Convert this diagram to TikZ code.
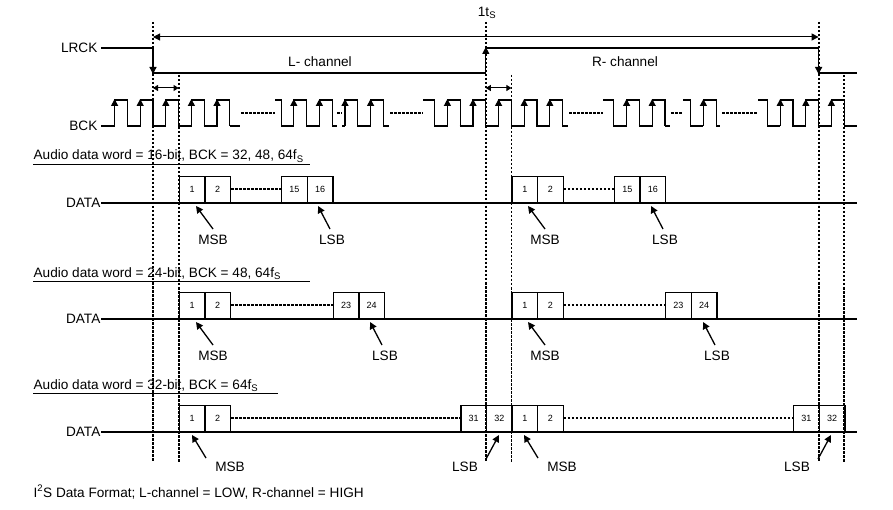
\documentclass[tikz,border=0pt]{standalone}
\usepackage{fontspec}
\setmainfont{Liberation Sans}
\usetikzlibrary{arrows.meta}
\begin{document}
\begin{tikzpicture}[x=1pt,y=-1pt,line width=1.3pt,
  lbl/.style={font=\fontsize{13.6}{15}\selectfont,inner sep=0pt},
  num/.style={font=\fontsize{9}{10}\selectfont},
  vd/.style={line width=1.8pt,dash pattern=on 2.5pt off 1.5pt},
  dots/.style={line width=2pt,dash pattern=on 2.5pt off 1.5pt},
  tip/.style={-{Triangle[length=7pt,width=7pt]}},
  box/.style={draw,line width=1.3pt,minimum width=25.6pt,minimum height=26pt,inner sep=0pt,anchor=south west,num}]
\useasboundingbox (0,0) rectangle (893,510);
% vertical dashed
\foreach \x in {153,485.8,818.6}{\draw[vd] (\x,22) -- (\x,462);}
\foreach \x in {178.6,511.4,844.2}{\draw[vd] (\x,75) -- (\x,462);}
% 1tS
\node[lbl] (ts) at (487,13) {1t\textsubscript{S}};
\coordinate (tA) at (153,37); \coordinate (tB) at (818.6,37);
\draw[line width=1pt,{Triangle[length=7pt,width=7pt]}-{Triangle[length=7pt,width=7pt]}] (tA) -- (tB);
% LRCK
\node[lbl,anchor=east] (lrck) at (98,48) {LRCK};
\draw (101,48) -- (153,48) -- (153,73) -- (485.8,73) -- (485.8,48) -- (818.6,48) -- (818.6,73) -- (857,73);
\draw[tip] (153,60) -- (153,74);
\draw[tip] (485.8,60) -- (485.8,47);
\draw[tip] (818.6,60) -- (818.6,74);
\node[lbl] (lch) at (320,62) {L- channel};
\node[lbl] (rch) at (625,62) {R- channel};
\coordinate (s1) at (153,88); \coordinate (s2) at (178.6,88);
\coordinate (s3) at (485.8,88); \coordinate (s4) at (511.4,88);
\draw[line width=1pt,{Triangle[length=5pt,width=6pt]}-{Triangle[length=5pt,width=6pt]}] (s1) -- (s2);
\draw[line width=1pt,{Triangle[length=5pt,width=6pt]}-{Triangle[length=5pt,width=6pt]}] (s3) -- (s4);
% BCK
\node[lbl,anchor=east] (bck) at (98,126) {BCK};
\def\pul#1{\foreach \k in {#1}{%
  \draw ({140.2+25.6*\k},126) -- ({140.2+25.6*\k},100) -- ({153+25.6*\k},100) -- ({153+25.6*\k},126);
  \draw[tip] ({140.2+25.6*\k},116) -- ({140.2+25.6*\k},99);}}
\def\low#1{\foreach \k in {#1}{\draw ({153+25.6*\k-0.6},126) -- ({165.8+25.6*\k+0.6},126);}}
\pul{-1,0,1,2,3} \draw (101,126) -- (115.2,126); \low{-1,0,1,2} \draw (230,126) -- (240,126);
\draw[dots] (241,113) -- (275,113);
\draw (275,100) -- (281.4,100) -- (281.4,126) -- (294,126); \pul{6,7} \low{6}
\draw (332,126) -- (337,126); \draw[dots] (337,113) -- (342,113); \draw (342,126) -- (345,126);
\pul{8,9} \low{8} \draw (383,126) -- (389,126);
\draw[dots] (390,113) -- (423,113);
\draw (423,100) -- (434.6,100) -- (434.6,126) -- (447.6,126); \pul{12,13,14,15,16} \low{12,13,14,15}
\draw (562,126) -- (568,126); \draw[dots] (569,113) -- (603,113);
\draw (603,100) -- (613.8,100) -- (613.8,126) -- (626.6,126); \pul{19,20} \low{19}
\draw (665,126) -- (670,126); \draw[dots] (671,113) -- (683,113);
\draw (683,100) -- (690.6,100) -- (690.6,126) -- (703.4,126); \pul{22} \draw (716,126) -- (720,126);
\draw[dots] (722,113) -- (758,113);
\draw (758,100) -- (767.4,100) -- (767.4,126) -- (780.2,126); \pul{25,26,27} \low{25,26} \draw (844,126) -- (857,126);
% ---- row 1
\node[lbl,anchor=base west] (h1) at (33,160) {Audio data word = 16-bit, BCK = 32, 48, 64f\textsubscript{S}};
\draw[line width=0.8pt] (33,164) -- (310,164);
\node[lbl,anchor=east] (d1) at (101,203) {DATA};
\draw (101,203) -- (857,203);
\node[box] (a1) at (178.6,203) {1}; \node[box] (a2) at (204.2,203) {2};
\node[box] (a15) at (281,203) {15}; \node[box] (a16) at (306.6,203) {16};
\draw[dots] (a2.east) -- (a15.west);
\node[box] (b1) at (511.4,203) {1}; \node[box] (b2) at (537,203) {2};
\node[box] (b15) at (613.8,203) {15}; \node[box] (b16) at (639.4,203) {16};
\draw[dots] (b2.east) -- (b15.west);
\node[lbl] (m1) at (213,240) {MSB}; \node[lbl] (l1) at (332,240) {LSB};
\node[lbl] (m2) at (545,240) {MSB}; \node[lbl] (l2) at (665,240) {LSB};
\draw[tip] (213,229) -- (196,206); \draw[tip] (330,229) -- (318,206);
\draw[tip] (545,229) -- (528,206); \draw[tip] (663,229) -- (651,206);
% ---- row 2
\node[lbl,anchor=base west] (h2) at (33,277) {Audio data word = 24-bit, BCK = 48, 64f\textsubscript{S}};
\draw[line width=0.8pt] (33,281) -- (310,281);
\node[lbl,anchor=east] (d2) at (101,319) {DATA};
\draw (101,319) -- (857,319);
\node[box] (c1) at (178.6,319) {1}; \node[box] (c2) at (204.2,319) {2};
\node[box] (c23) at (332.6,319) {23}; \node[box] (c24) at (358.2,319) {24};
\draw[dots] (c2.east) -- (c23.west);
\node[box] (e1) at (511.4,319) {1}; \node[box] (e2) at (537,319) {2};
\node[box] (e23) at (665,319) {23}; \node[box] (e24) at (690.6,319) {24};
\draw[dots] (e2.east) -- (e23.west);
\node[lbl] (m3) at (213,356) {MSB}; \node[lbl] (l3) at (385,356) {LSB};
\node[lbl] (m4) at (545,356) {MSB}; \node[lbl] (l4) at (717,356) {LSB};
\draw[tip] (213,345) -- (196,322); \draw[tip] (382,345) -- (370,322);
\draw[tip] (545,345) -- (528,322); \draw[tip] (715,345) -- (703,322);
% ---- row 3
\node[lbl,anchor=base west] (h3) at (33,389) {Audio data word = 32-bit, BCK = 64f\textsubscript{S}};
\draw[line width=0.8pt] (33,393) -- (278,393);
\node[lbl,anchor=east] (d3) at (101,432) {DATA};
\draw (101,432) -- (857,432);
\node[box] (f1) at (178.6,432) {1}; \node[box] (f2) at (204.2,432) {2};
\node[box] (f31) at (460.2,432) {31}; \node[box] (f32) at (485.8,432) {32};
\draw[dots] (f2.east) -- (f31.west);
\node[box] (g1) at (511.4,432) {1}; \node[box] (g2) at (537,432) {2};
\node[box] (g31) at (793,432) {31}; \node[box] (g32) at (818.6,432) {32};
\draw[dots] (g2.east) -- (g31.west);
\node[lbl] (m5) at (230,467) {MSB}; \node[lbl] (l5) at (465,467) {LSB};
\node[lbl] (m6) at (562,467) {MSB}; \node[lbl] (l6) at (797,467) {LSB};
\draw[tip] (206,458) -- (192,435); \draw[tip] (486,459) -- (499,435);
\draw[tip] (538,458) -- (524,435); \draw[tip] (818,459) -- (831,435);
% footer
\node[lbl,anchor=base west] (ft) at (33,497) {I\textsuperscript{2}S Data Format; L-channel = LOW, R-channel = HIGH};
\end{tikzpicture}
\end{document}
